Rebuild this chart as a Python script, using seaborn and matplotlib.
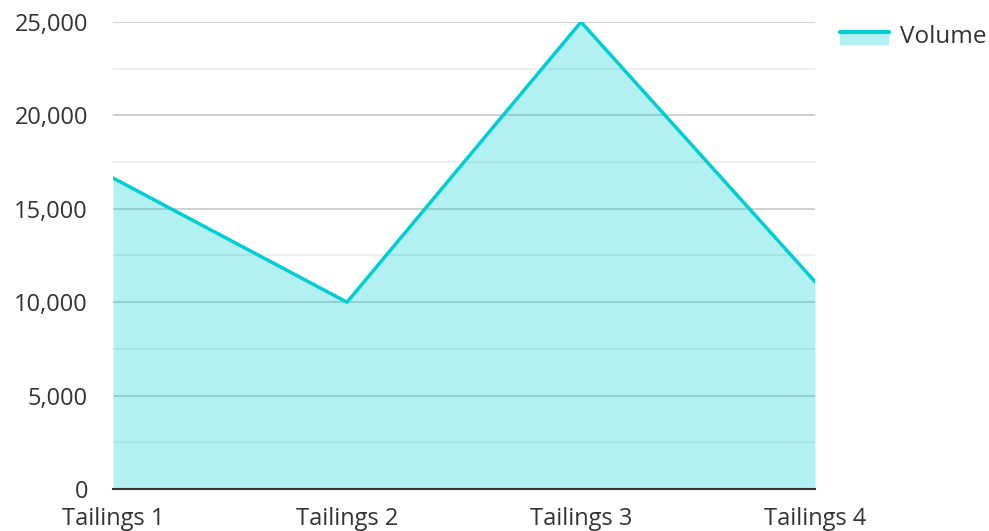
import matplotlib
matplotlib.use("Agg")
import matplotlib.pyplot as plt
import seaborn as sns
import pandas as pd
import numpy as np
from matplotlib.lines import Line2D
from matplotlib.patches import Patch
from matplotlib.legend_handler import HandlerBase

categories = ["Tailings 1", "Tailings 2", "Tailings 3", "Tailings 4"]
volume = [16650, 10000, 25000, 11100]
yticks = [0, 5000, 10000, 15000, 20000, 25000]

sns.set_theme(style="white")
plt.rcParams['font.family'] = ['Open Sans', 'DejaVu Sans']

LINE = "#00CED1"
df = pd.DataFrame({"x": np.arange(len(categories)), "Volume": volume})

fig = plt.figure(figsize=(9.89, 5.31), dpi=100)
ax = fig.add_axes([113/989, 1 - 489/531, (815-113)/989, (489-22)/531])

# grid
for v in np.arange(2500, 25001, 2500):
    major = v % 5000 == 0
    ax.axhline(v, color="#C8C8C8" if major else "#EBEBEB", lw=1.2, zorder=0)

ax.fill_between(df["x"], df["Volume"], 0, color=LINE, alpha=0.3, lw=0, zorder=1)
sns.lineplot(data=df, x="x", y="Volume", color=LINE, lw=2.5, ax=ax, zorder=3)

ax.set_xlim(0, 3)
ax.set_ylim(0, 25000)
ax.set_xticks(df["x"])
ax.set_xticklabels(categories)
ax.set_yticks(yticks)
ax.set_yticklabels([f"{v:,}" for v in yticks])
ax.tick_params(axis="both", length=0, labelsize=17, labelcolor="#333333")
ax.tick_params(axis="x", pad=13)
ax.tick_params(axis="y", pad=18)
ax.set_xlabel("")
ax.set_ylabel("")
for s in ["top", "right", "left"]:
    ax.spines[s].set_visible(False)
ax.spines["bottom"].set_color("#333333")
ax.spines["bottom"].set_linewidth(1.5)
ax.spines["bottom"].set_zorder(4)

class Handler(HandlerBase):
    def create_artists(self, legend, orig, xd, yd, w, h, fs, trans):
        p = matplotlib.patches.Rectangle((xd, yd), w, h, facecolor=LINE, alpha=0.3, lw=0, transform=trans)
        l = Line2D([xd, xd + w], [yd + h, yd + h], color=LINE, lw=3, transform=trans)
        return [p, l]

h = Patch(label="Volume")
leg = fig.legend([h], ["Volume"], handler_map={Patch: Handler()}, loc="upper left",
                 bbox_to_anchor=(840/989, 1 - 25/531), frameon=False, fontsize=17.5,
                 handlelength=2.0, handleheight=0.45, handletextpad=0.45, borderpad=0,
                 borderaxespad=0)
for t in leg.get_texts():
    t.set_color("#333333")

fig.savefig("out.png", dpi=100)
